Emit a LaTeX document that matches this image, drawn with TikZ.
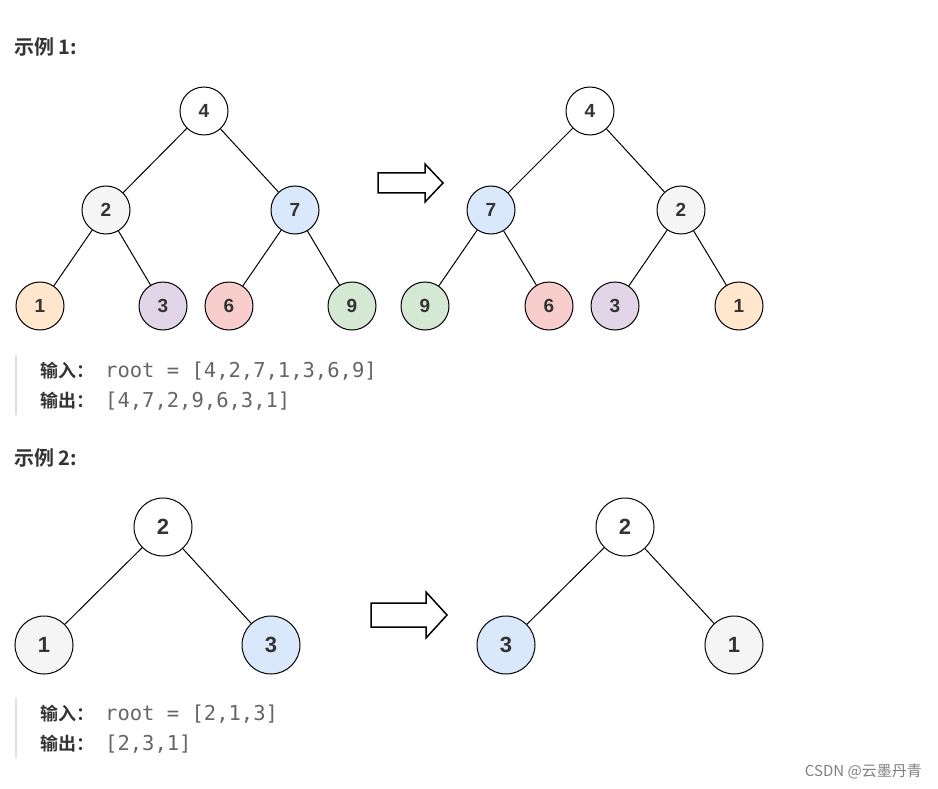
\documentclass[tikz,border=0pt]{standalone}
\usepackage{fontspec}
\setmainfont{Liberation Sans}
\newfontfamily\cjk{Noto Sans CJK SC}
\newfontfamily\cjkb{Noto Sans CJK SC Bold}
\newfontfamily\monof{DejaVu Sans Mono}
\definecolor{cg}{HTML}{F5F5F5}
\definecolor{cb}{HTML}{DAE8FC}
\definecolor{co}{HTML}{FFE6CC}
\definecolor{cp}{HTML}{E1D5E7}
\definecolor{cr}{HTML}{F8CECC}
\definecolor{cgr}{HTML}{D5E8D4}
\definecolor{tx}{HTML}{333333}
\definecolor{code}{HTML}{666666}
\begin{document}
\begin{tikzpicture}[x=1pt,y=-1pt,
 n/.style={circle,draw=black,line width=1pt,minimum size=48pt,inner sep=0pt,font=\bfseries\fontsize{19}{19}\selectfont,text=tx},
 m/.style={n,minimum size=58pt,font=\bfseries\fontsize{22}{22}\selectfont},
 e/.style={line width=1pt},
 ar/.style={draw=black,line width=1.5pt,fill=white,line join=miter},
 hd/.style={anchor=west,font=\cjkb\fontsize{20}{20}\selectfont,text=tx,inner sep=0pt},
 lb/.style={anchor=west,font=\cjkb\fontsize{18}{18}\selectfont,text=tx,inner sep=0pt},
 cd/.style={anchor=west,font=\monof\fontsize{20.5}{20}\selectfont,text=code,inner sep=0pt},
 bar/.style={line width=2.5pt,draw=black!12}]
\useasboundingbox (0,0) rectangle (938,789);
\fill[white] (0,0) rectangle (938,789);
\node[hd] (h1) at (14,47) {示例 1:};
\node[n] (a4) at (204,111) {4};
\node[n,fill=cg] (a2) at (106,210) {2};
\node[n,fill=cb] (a7) at (295,210) {7};
\node[n,fill=co] (a1) at (40,306) {1};
\node[n,fill=cp] (a3) at (163,306) {3};
\node[n,fill=cr] (a6) at (229,306) {6};
\node[n,fill=cgr] (a9) at (352,306) {9};
\draw[e] (a4)--(a2) (a4)--(a7) (a2)--(a1) (a2)--(a3) (a7)--(a6) (a7)--(a9);
\draw[ar] (378,173)--(425,173)--(425,164)--(443,183)--(425,202)--(425,193)--(378,193)--cycle;
\node[n] (b4) at (590,111) {4};
\node[n,fill=cb] (b7) at (491,210) {7};
\node[n,fill=cg] (b2) at (681,210) {2};
\node[n,fill=cgr] (b9) at (425,306) {9};
\node[n,fill=cr] (b6) at (549,306) {6};
\node[n,fill=cp] (b3) at (615,306) {3};
\node[n,fill=co] (b1) at (739,306) {1};
\draw[e] (b4)--(b7) (b4)--(b2) (b7)--(b9) (b7)--(b6) (b2)--(b3) (b2)--(b1);
\coordinate (q1) at (16,355); \coordinate (q2) at (16,415);
\draw[bar] (q1)--(q2);
\node[lb] (i1) at (40,371) {输入：};
\node[cd] (c1) at (105,371) {root = [4,2,7,1,3,6,9]};
\node[lb] (o1) at (40,401) {输出：};
\node[cd] (c2) at (105,401) {[4,7,2,9,6,3,1]};
\node[hd] (h2) at (14,458) {示例 2:};
\node[m] (c2n) at (163,527) {2};
\node[m,fill=cg] (c1n) at (44,645) {1};
\node[m,fill=cb] (c3n) at (271,645) {3};
\draw[e] (c2n)--(c1n) (c2n)--(c3n);
\draw[ar] (371,603)--(426,603)--(426,592)--(447,615)--(426,638)--(426,627)--(371,627)--cycle;
\node[m] (d2) at (625,527) {2};
\node[m,fill=cb] (d3) at (506,645) {3};
\node[m,fill=cg] (d1) at (734,645) {1};
\draw[e] (d2)--(d3) (d2)--(d1);
\coordinate (q3) at (16,698); \coordinate (q4) at (16,758);
\draw[bar] (q3)--(q4);
\node[lb] (i2) at (40,714) {输入：};
\node[cd] (c3) at (105,714) {root = [2,1,3]};
\node[lb] (o2) at (40,744) {输出：};
\node[cd] (c4) at (105,744) {[2,3,1]};
\node[anchor=east,font=\cjk\fontsize{15}{15}\selectfont,text=black!50,inner sep=0pt] (w) at (922,771) {CSDN @云墨丹青};
\end{tikzpicture}
\end{document}
